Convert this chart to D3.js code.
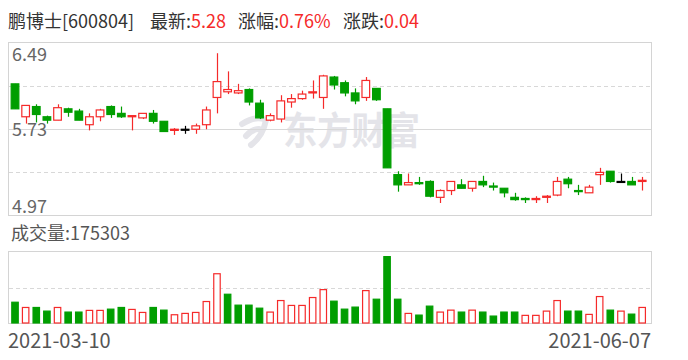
<!DOCTYPE html>
<html>
<head>
<meta charset="utf-8">
<script src="https://cdn.jsdelivr.net/npm/d3@7/dist/d3.min.js"></script>
<style>
  body { margin: 0; background: #fff; }
  text { font-family: "Microsoft YaHei", "Noto Sans CJK SC", sans-serif; }
</style>
</head>
<body>
<div id="chart"></div>
<script>
// 鹏博士 daily k-line, 2021-03-10 .. 2021-06-07
var stockName = "鹏博士";
var stockCode = "600804";
var dateLabels = ["2021-03-10", "2021-06-07"];
var priceTicks = [6.49, 5.73, 4.97];
var priceGrid = [6.11, 5.73, 5.35];

var opens = [6.13, 5.84, 5.93, 5.84, 5.81, 5.91, 5.89, 5.77, 5.84, 5.93,
             5.87, 5.84, 5.83, 5.87, 5.80, 5.72, 5.73, 5.73, 5.77, 6.01,
             6.06, 6.05, 6.08, 5.96, 5.81, 5.82, 5.97, 6.00, 6.05, 6.01,
             6.19, 6.14, 6.05, 6.01, 6.09, 5.91, 5.33, 5.24, 5.26, 5.27,
             5.13, 5.19, 5.24, 5.21, 5.27, 5.23, 5.21, 5.13, 5.12, 5.11,
             5.13, 5.15, 5.29, 5.19, 5.17, 5.33, 5.36, 5.27, 5.27, 5.27];
var highs = [6.13, 5.94, 5.95, 5.85, 5.95, 5.92, 5.91, 5.87, 5.91, 5.94,
             5.93, 5.85, 5.87, 5.90, 5.80, 5.74, 5.76, 5.78, 5.93, 6.40,
             6.24, 6.13, 6.09, 5.99, 5.87, 6.03, 6.04, 6.07, 6.16, 6.21,
             6.20, 6.16, 6.09, 6.19, 6.09, 5.91, 5.36, 5.34, 5.31, 5.28,
             5.20, 5.27, 5.29, 5.27, 5.32, 5.26, 5.21, 5.17, 5.13, 5.14,
             5.15, 5.31, 5.31, 5.24, 5.24, 5.39, 5.36, 5.34, 5.31, 5.31];
var lows = [5.91, 5.78, 5.79, 5.78, 5.81, 5.84, 5.81, 5.72, 5.80, 5.83,
            5.83, 5.72, 5.82, 5.78, 5.71, 5.68, 5.69, 5.69, 5.73, 5.87,
            6.04, 6.04, 5.94, 5.82, 5.80, 5.79, 5.92, 5.99, 6.00, 5.91,
            6.08, 6.02, 5.95, 5.98, 5.98, 5.39, 5.18, 5.24, 5.24, 5.13,
            5.08, 5.15, 5.21, 5.18, 5.22, 5.19, 5.13, 5.10, 5.08, 5.08,
            5.08, 5.14, 5.21, 5.15, 5.17, 5.24, 5.26, 5.27, 5.24, 5.19];
var closes = [5.91, 5.94, 5.86, 5.81, 5.92, 5.88, 5.81, 5.84, 5.90, 5.86,
              5.84, 5.85, 5.87, 5.80, 5.71, 5.73, 5.73, 5.76, 5.90, 6.15,
              6.08, 6.07, 5.97, 5.83, 5.85, 5.98, 6.00, 6.04, 6.06, 6.20,
              6.12, 6.05, 5.98, 6.16, 5.99, 5.39, 5.24, 5.26, 5.25, 5.14,
              5.19, 5.27, 5.21, 5.27, 5.24, 5.22, 5.17, 5.11, 5.11, 5.12,
              5.14, 5.27, 5.25, 5.18, 5.22, 5.35, 5.27, 5.27, 5.24, 5.28];
var volumes = [234000, 175000, 175000, 134000, 175000, 123000, 123000, 142000, 142000, 156000,
               175000, 153000, 119000, 175000, 145000, 93000, 108000, 119000, 242000, 555000,
               324000, 201000, 201000, 167000, 123000, 253000, 198000, 198000, 287000, 376000,
               246000, 156000, 179000, 365000, 268000, 748000, 268000, 108000, 89000, 190000,
               123000, 145000, 123000, 145000, 123000, 78000, 123000, 123000, 86000, 86000,
               134000, 253000, 134000, 134000, 97000, 298000, 145000, 134000, 100000, 175303];

var RED = "#f52a2a", GREEN = "#009e00", FLAT = "#000";
var W = 688, H = 360;
var left = 8, right = 651;

var svg = d3.select("#chart").append("svg")
  .attr("width", W).attr("height", H);

var n = closes.length;
var x = d3.scaleBand().domain(d3.range(n))
  .range([9.7, 647.5]).paddingInner(0.28).paddingOuter(0.14);
var y = d3.scaleLinear().domain([4.97, 6.49]).range([215.5, 43]);
var yv = d3.scaleLinear().domain([0, 800000]).range([323, 252]);

function candleColor(i) {
  if (closes[i] > opens[i]) return RED;
  if (closes[i] < opens[i]) return GREEN;
  var prev = i > 0 ? closes[i - 1] : opens[i];
  if (closes[i] > prev) return RED;
  if (closes[i] < prev) return GREEN;
  return FLAT;
}
function volUp(i) {
  var prev = i > 0 ? closes[i - 1] : opens[i];
  return closes[i] >= prev;
}

// header
var last = closes[n - 1], prevClose = closes[n - 2];
var chg = last - prevClose;
var head = svg.append("text").attr("x", 8).attr("y", 28)
  .style("font-size", "18px").attr("fill", "#333");
head.append("tspan").text(stockName + "[" + stockCode + "]");
head.append("tspan").attr("x", 150).text("最新:");
head.append("tspan").attr("fill", RED).text(last.toFixed(2));
head.append("tspan").attr("x", 238).text("涨幅:");
head.append("tspan").attr("fill", RED).text((chg / prevClose * 100).toFixed(2) + "%");
head.append("tspan").attr("x", 343).text("涨跌:");
head.append("tspan").attr("fill", RED).text(chg.toFixed(2));

// watermark
var wm = svg.append("g").attr("fill", "none").attr("stroke", "#e4e4e9")
  .attr("stroke-width", 6).attr("stroke-linecap", "round");
wm.append("path").attr("d", "M242,124 Q256,115 266,120 Q263,136 251,145");
wm.append("path").attr("d", "M246,136 Q252,129 259,129");
svg.append("text").attr("x", 283).attr("y", 144)
  .attr("textLength", 137).attr("lengthAdjust", "spacingAndGlyphs")
  .style("font-size", "38px").style("font-weight", "bold")
  .attr("fill", "#e4e4e9").text("东方财富");

// price panel
svg.append("rect").attr("x", left + 0.5).attr("y", 42.5)
  .attr("width", right - left).attr("height", 173)
  .attr("fill", "none").attr("stroke", "#d4d4d4");

svg.selectAll(".grid").data(priceGrid).enter().append("line")
  .attr("x1", left + 1).attr("x2", right)
  .attr("y1", function (d) { return Math.round(y(d)) + 0.5; })
  .attr("y2", function (d) { return Math.round(y(d)) + 0.5; })
  .attr("stroke", "#d8d8d8")
  .attr("stroke-dasharray", function (d, i) { return i === 1 ? null : "4,3"; });

var yAxis = svg.append("g").attr("transform", "translate(" + (left + 4) + ",0)")
  .call(d3.axisRight(y).tickValues(priceTicks).tickSize(0).tickPadding(0)
    .tickFormat(d3.format(".2f")));
yAxis.select(".domain").remove();
yAxis.selectAll("text")
  .attr("fill", "#666").style("font-size", "18px")
  .attr("font-family", null)
  .attr("dy", function (d, i) { return i === 0 ? "0.95em" : i === 1 ? "0.36em" : "-0.15em"; });

var candles = svg.selectAll(".candle").data(d3.range(n)).enter().append("g");
candles.append("line")
  .attr("x1", function (i) { return Math.round(x(i) + x.bandwidth() / 2) + 0.5; })
  .attr("x2", function (i) { return Math.round(x(i) + x.bandwidth() / 2) + 0.5; })
  .attr("y1", function (i) { return y(highs[i]); })
  .attr("y2", function (i) { return y(lows[i]); })
  .attr("stroke", candleColor).attr("stroke-width", 1.2);
candles.append("rect")
  .attr("x", function (i) { return x(i); })
  .attr("width", x.bandwidth())
  .attr("y", function (i) { return y(Math.max(opens[i], closes[i])); })
  .attr("height", function (i) { return Math.max(1, Math.abs(y(opens[i]) - y(closes[i]))); })
  .attr("fill", function (i) { return closes[i] > opens[i] ? "#fff" : candleColor(i); })
  .attr("stroke", candleColor).attr("stroke-width", 1.2);

// volume panel
svg.append("text").attr("x", 11).attr("y", 240)
  .style("font-size", "18px").attr("fill", "#555")
  .text("成交量:" + volumes[n - 1]);

svg.append("rect").attr("x", left + 0.5).attr("y", 251.5)
  .attr("width", right - left).attr("height", 72)
  .attr("fill", "none").attr("stroke", "#d4d4d4");
svg.append("line").attr("x1", left + 1).attr("x2", right)
  .attr("y1", Math.round(yv(400000)) + 0.5).attr("y2", Math.round(yv(400000)) + 0.5)
  .attr("stroke", "#d8d8d8").attr("stroke-dasharray", "4,3");

svg.selectAll(".vol").data(d3.range(n)).enter().append("rect")
  .attr("x", function (i) { return x(i) + 0.6; })
  .attr("width", x.bandwidth() - 1.2)
  .attr("y", function (i) { return yv(volumes[i]); })
  .attr("height", function (i) { return yv(0) - yv(volumes[i]); })
  .attr("fill", function (i) { return volUp(i) ? "#fff" : GREEN; })
  .attr("stroke", function (i) { return volUp(i) ? RED : GREEN; })
  .attr("stroke-width", 1.2);

// date labels
svg.append("text").attr("x", 8).attr("y", 348)
  .style("font-size", "20px").attr("fill", "#555").text(dateLabels[0]);
svg.append("text").attr("x", right).attr("y", 348).attr("text-anchor", "end")
  .style("font-size", "20px").attr("fill", "#555").text(dateLabels[1]);
</script>
</body>
</html>
